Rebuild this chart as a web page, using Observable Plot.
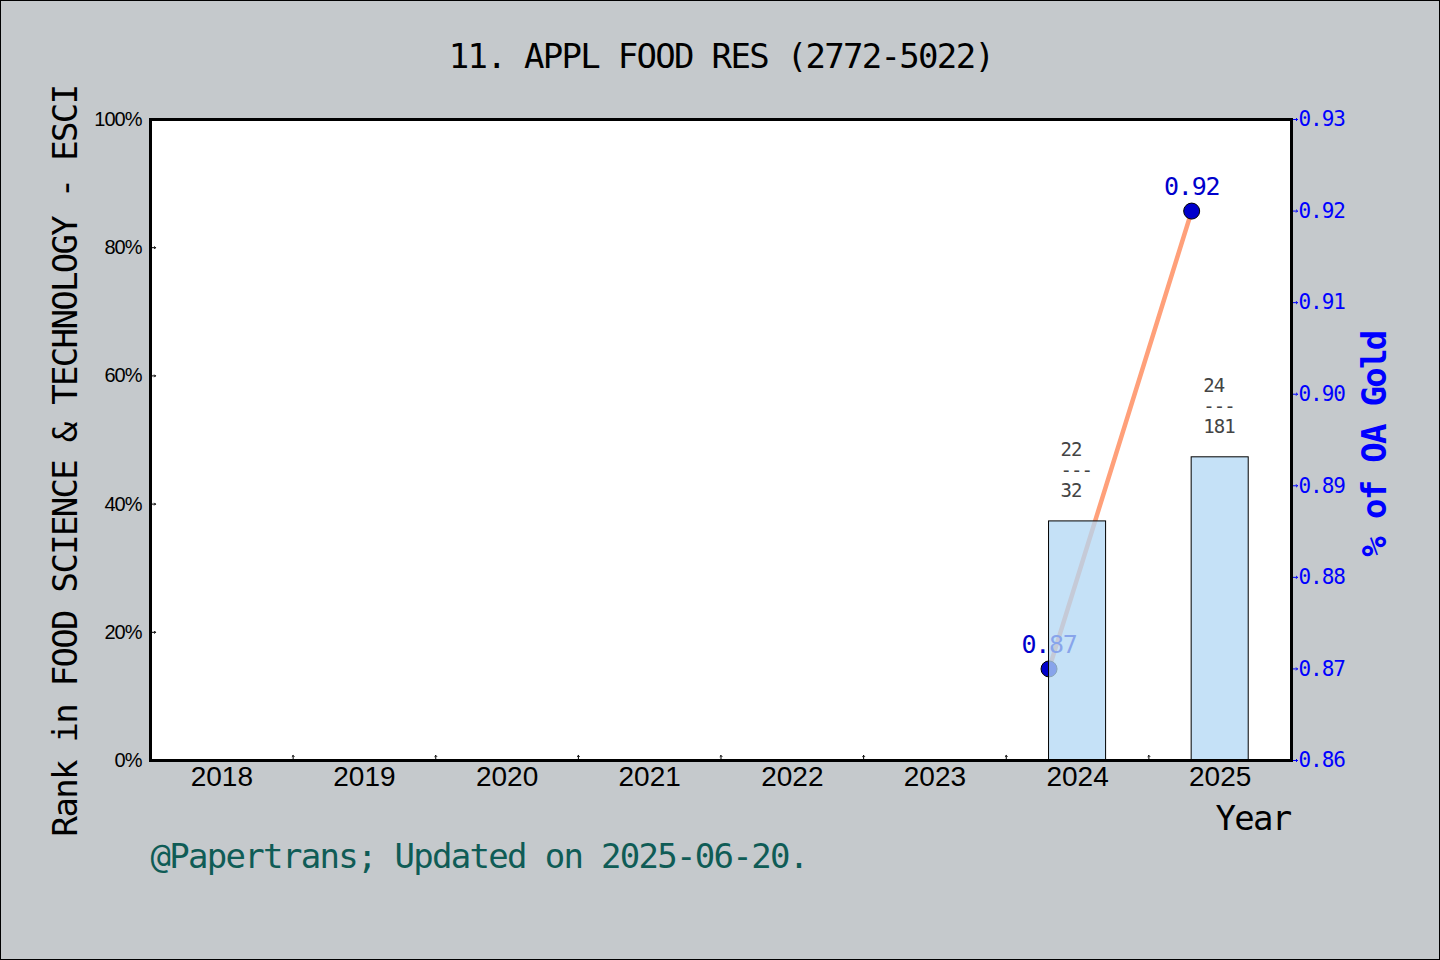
<!DOCTYPE html>
<html>
<head>
<meta charset="utf-8">
<script src="https://cdn.jsdelivr.net/npm/d3@7"></script>
<script src="https://cdn.jsdelivr.net/npm/@observablehq/plot@0.6"></script>
<style>
html, body { margin: 0; padding: 0; background: #c5c9cc; }
#wrap { position: relative; width: 1440px; height: 960px; overflow: hidden; }
#border { position: absolute; left: 0; top: 0; width: 1440px; height: 960px; box-sizing: border-box; border: 1px solid #000; pointer-events: none; }
svg g[font-family^="DejaVu Sans Mono"] { letter-spacing: -0.05em; }
svg g[font-family^="Liberation Sans"][font-size="20"] { letter-spacing: -1px; }
</style>
</head>
<body>
<div id="wrap"><div id="chart"></div><div id="border"></div></div>
<script>
// ---- data ----
const title = "11. APPL FOOD RES (2772-5022)";
const footnote = "@Papertrans; Updated on 2025-06-20.";
const leftLabel = "Rank in FOOD SCIENCE & TECHNOLOGY - ESCI";
const rightLabel = "% of OA Gold";
const xLabel = "Year";

const years = [2018, 2019, 2020, 2021, 2022, 2023, 2024, 2025];
const barYears = [2024, 2025];
const rankPct = [0.373, 0.473];
const rankLabels = ["22\n---\n32", "24\n---\n181"];

const oaYears = [2024, 2025];
const oaGold = [0.87, 0.92];
const oaLabels = ["0.87", "0.92"];

const leftTicks = [0, 0.2, 0.4, 0.6, 0.8, 1.0];
const rightTicks = [0.86, 0.87, 0.88, 0.89, 0.90, 0.91, 0.92, 0.93];
const OA_MIN = 0.86, OA_MAX = 0.93;
const BAR_HALF = 0.2;

// ---- helpers ----
const toY = v => (v - OA_MIN) / (OA_MAX - OA_MIN);
const fromY = y => OA_MIN + y * (OA_MAX - OA_MIN);
const bars = barYears.map((yr, i) => ({year: yr, value: rankPct[i], label: rankLabels[i]}));
const oa = oaYears.map((yr, i) => ({year: yr, value: oaGold[i], label: oaLabels[i]}));
const halfYears = years.slice(0, -1).map(y => y + 0.5);

const MONO = "DejaVu Sans Mono";

const plot = Plot.plot({
  width: 1440,
  height: 960,
  marginLeft: 150,
  marginRight: 149,
  marginTop: 119,
  marginBottom: 200,
  style: {background: "#c5c9cc", overflow: "visible"},
  x: {type: "linear", domain: [years[0] - 0.5, years[years.length - 1] + 0.5]},
  y: {domain: [0, 1]},
  marks: [
    Plot.frame({fill: "white"}),
    // OA gold line + points + labels
    Plot.line(oa, {x: d => d.year - BAR_HALF, y: d => toY(d.value), stroke: "#ffa07a", strokeWidth: 4.5}),
    Plot.dot(oa, {x: d => d.year - BAR_HALF, y: d => toY(d.value), r: 8, fill: "#0000cc", stroke: "black", strokeWidth: 1}),
    Plot.text(oa, {x: d => d.year - BAR_HALF, y: d => toY(d.value), text: "label", dy: -24, fill: "#0000cc", fontSize: 25, fontFamily: MONO}),
    // rank bars
    Plot.rectY(bars, {x1: d => d.year - BAR_HALF, x2: d => d.year + BAR_HALF, y: "value", fill: "rgb(179,215,245)", fillOpacity: 0.76, stroke: "black", strokeWidth: 1}),
    Plot.text(bars, {x: "year", y: "value", text: "label", textAnchor: "start", lineAnchor: "bottom", lineHeight: 1.08, dx: -17, dy: -24, fill: "#444", fontSize: 19, fontFamily: MONO}),
    // axes
    Plot.axisX(years, {anchor: "bottom", tickSize: 0, tickPadding: 6, tickFormat: d => String(d), fontSize: 28, fontFamily: "Liberation Sans", fill: "black", label: null}),
    Plot.vector(halfYears, {x: d => d, frameAnchor: "bottom", length: 5, rotate: 0, anchor: "start", stroke: "black", strokeWidth: 1}),
    Plot.axisY(leftTicks, {anchor: "left", tickSize: 0, tickPadding: 9, tickFormat: d => Math.round(d * 100) + "%", fontSize: 20, fontFamily: "Liberation Sans", fill: "black", label: null}),
    Plot.vector(leftTicks, {y: d => d, frameAnchor: "left", length: 5, rotate: 90, anchor: "start", stroke: "black", strokeWidth: 1}),
    Plot.axisY(rightTicks.map(toY), {anchor: "right", tickSize: 0, tickPadding: 7, tickFormat: d => fromY(d).toFixed(2), fontSize: 21, fontFamily: MONO, fill: "blue", label: null}),
    Plot.vector(rightTicks, {y: d => toY(d), frameAnchor: "right", length: 6, rotate: 90, anchor: "start", stroke: "blue", strokeWidth: 1}),
    // labels
    Plot.text([leftLabel], {text: d => d, frameAnchor: "left", rotate: -90, textAnchor: "middle", lineAnchor: "top", dx: -98, dy: 21, fontSize: 34, fontFamily: MONO, fill: "black"}),
    Plot.text([rightLabel], {text: d => d, frameAnchor: "right", rotate: -90, textAnchor: "middle", lineAnchor: "top", dx: 70, dy: 4, fontSize: 34, fontWeight: "bold", fontFamily: MONO, fill: "blue"}),
    Plot.text([xLabel], {text: d => d, frameAnchor: "bottom-right", textAnchor: "end", lineAnchor: "top", dx: -1, dy: 45, fontSize: 34, fontFamily: MONO, fill: "black"}),
    Plot.text([title], {text: d => d, frameAnchor: "top", lineAnchor: "top", dy: -76, fontSize: 34, fontFamily: MONO, fill: "black"}),
    Plot.text([footnote], {text: d => d, frameAnchor: "bottom-left", textAnchor: "start", lineAnchor: "top", dy: 83, fontSize: 34, fontFamily: MONO, fill: "#0f5c56"}),
    Plot.frame({stroke: "black", strokeWidth: 3})
  ]
});
document.getElementById("chart").appendChild(plot);
</script>
</body>
</html>
